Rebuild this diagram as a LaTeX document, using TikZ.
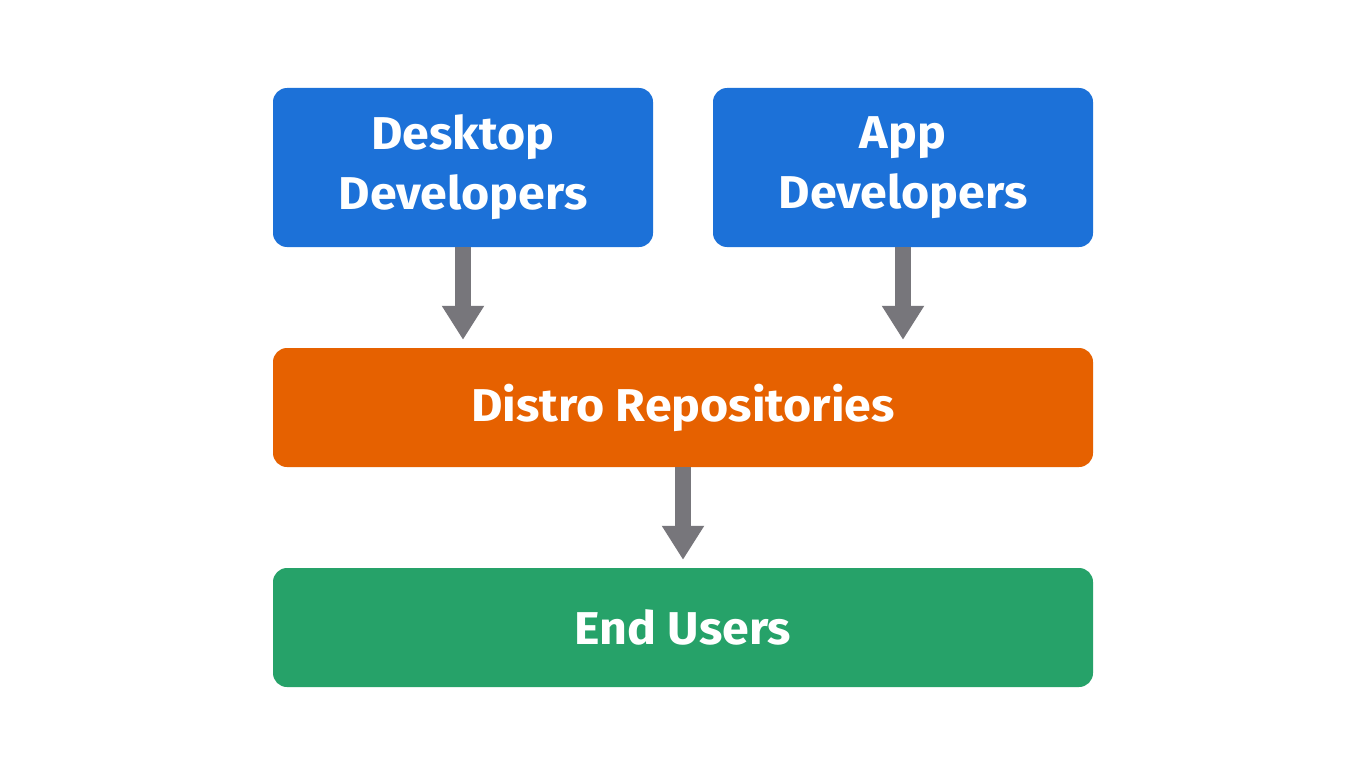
\documentclass[tikz,border=0pt]{standalone}
\usepackage{fontspec}
\setmainfont{Fira Sans}[BoldFont={Fira Sans Bold}, BoldFeatures={FakeStretch=1.05}]
\usetikzlibrary{arrows.meta}
\definecolor{gblue}{HTML}{1C71D8}
\definecolor{gorange}{HTML}{E66100}
\definecolor{ggreen}{HTML}{26A269}
\definecolor{ggray}{HTML}{77767B}
\begin{document}
\begin{tikzpicture}[x=1pt,y=-1pt,
  box/.style={rounded corners=14pt, inner sep=0pt, align=center, text=white,
    font=\bfseries\fontsize{46}{60}\selectfont},
  flow/.style={draw=ggray, line width=16pt, shorten >=8pt,
    -{Triangle[width=40pt,length=34pt]}}]
\useasboundingbox (0,0) rectangle (1366,768);
\fill[white] (0,0) rectangle (1366,768);
\node[box, fill=gblue, minimum width=380pt, minimum height=159pt] (desk) at (463,167.5) {Desktop\\Developers};
\node[box, fill=gblue, minimum width=380pt, minimum height=159pt] (app) at (903,167.5) {App\\Developers};
\node[box, fill=gorange, minimum width=820pt, minimum height=119pt] (distro) at (683,407.5) {Distro Repositories};
\node[box, fill=ggreen, minimum width=820pt, minimum height=119pt] (end) at (683,627.5) {End Users};
\draw[flow] (desk.south) -- (desk.south |- distro.north);
\draw[flow] (app.south) -- (app.south |- distro.north);
\draw[flow] (distro.south) -- (end.north);
\end{tikzpicture}
\end{document}
